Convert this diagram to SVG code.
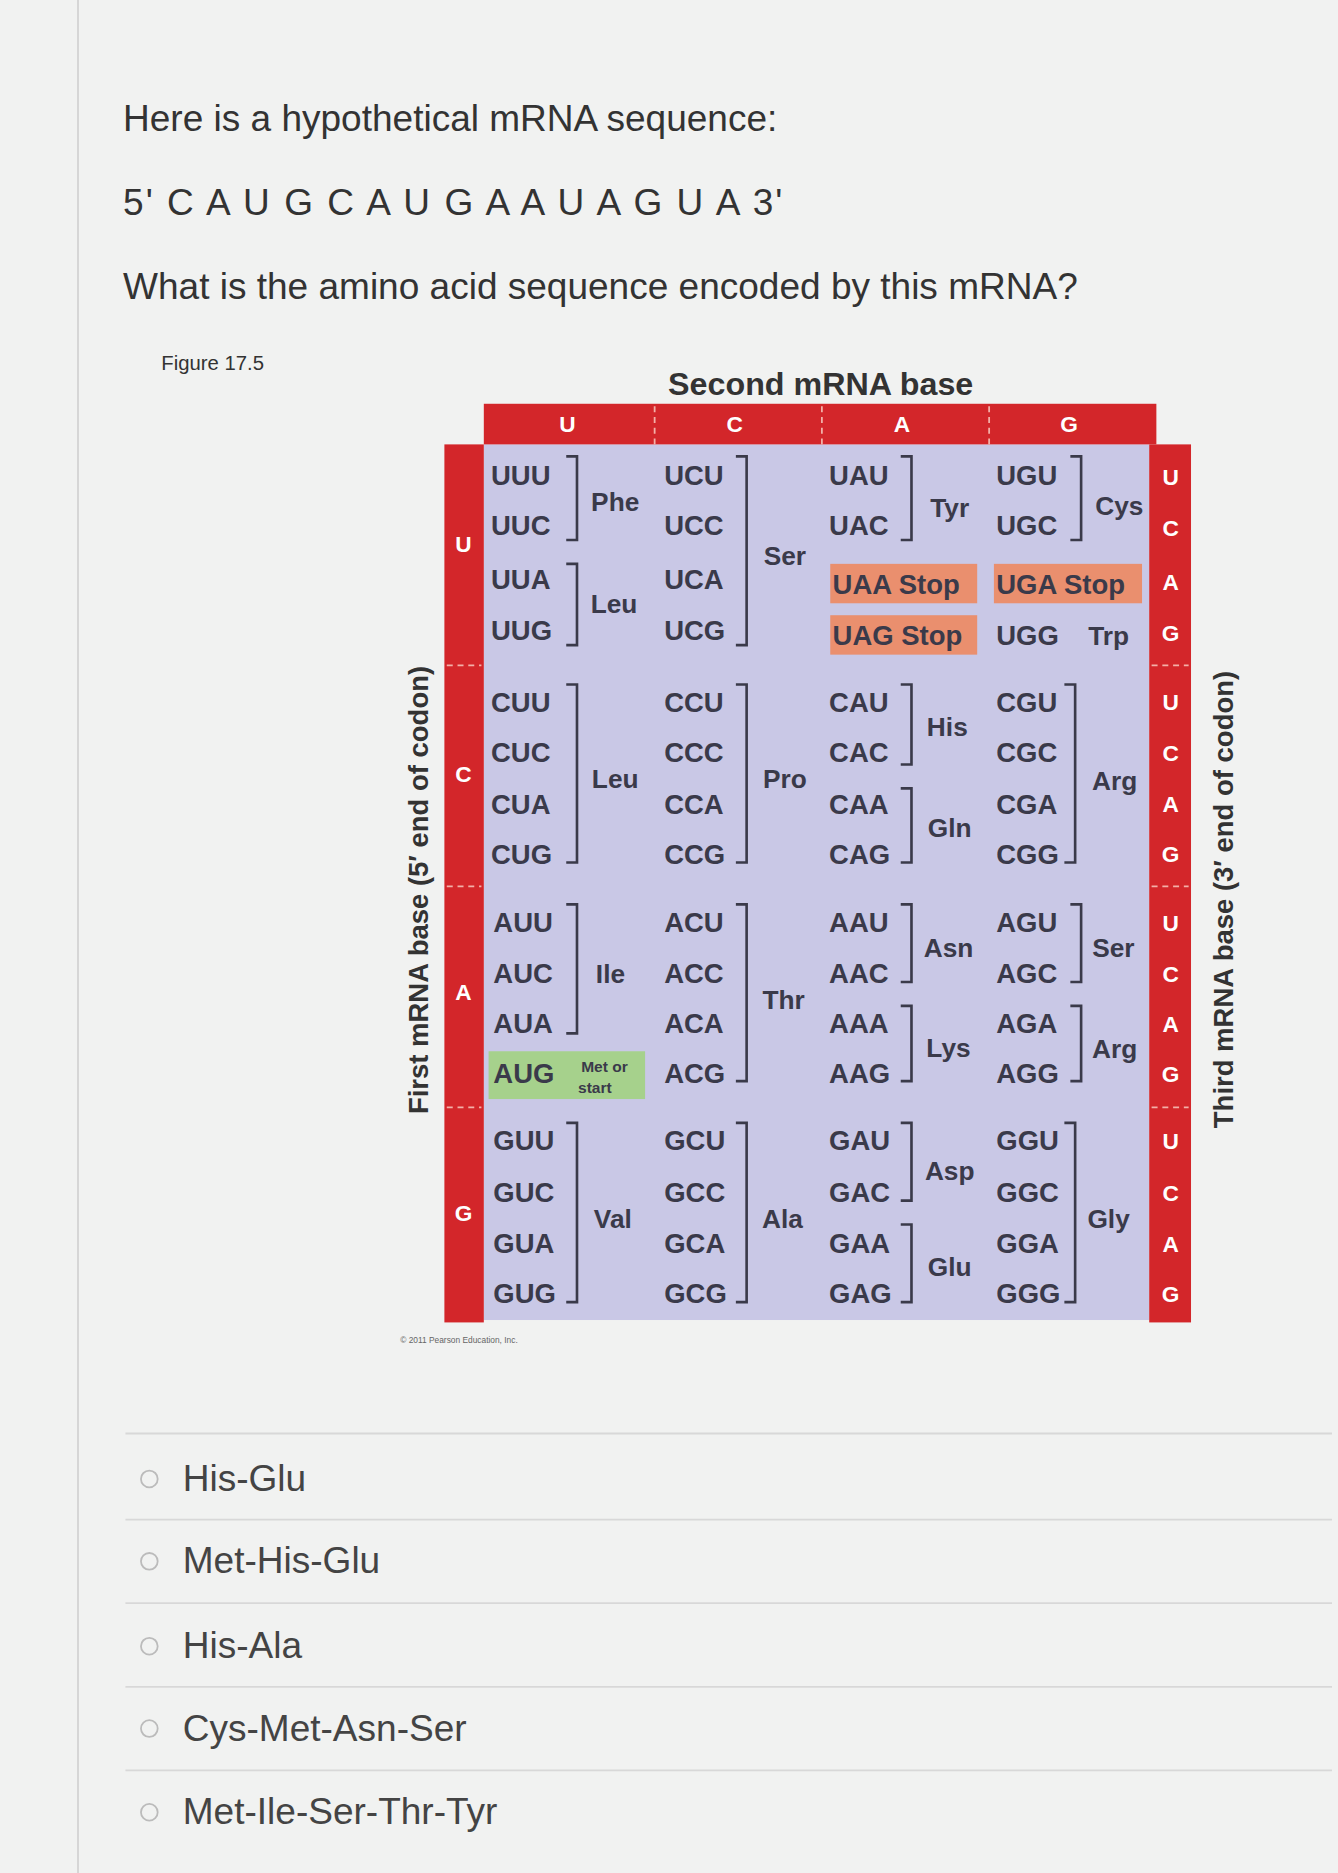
<svg xmlns="http://www.w3.org/2000/svg" width="1338" height="1873" viewBox="0 0 1338 1873">
<style>
.q{font-family:"Liberation Sans",Arial,sans-serif;fill:#333}
.cd{font-family:"Liberation Sans",Arial,sans-serif;font-size:23px;font-weight:bold;fill:#3a3a4a}
.aa{font-family:"Liberation Sans",Arial,sans-serif;font-size:22px;font-weight:bold;fill:#3a3a4a;text-anchor:middle}
.sm{font-family:"Liberation Sans",Arial,sans-serif;font-size:13px;font-weight:bold;fill:#3a3a4a;text-anchor:middle}
.bl{font-family:"Liberation Sans",Arial,sans-serif;font-size:19px;font-weight:bold;fill:#fff;text-anchor:middle}
.br{fill:none;stroke:#3a3a4a;stroke-width:2.2}
.opt{font-family:"Liberation Sans",Arial,sans-serif;font-size:31px;fill:#444}
.sep{stroke:#d8d8d8;stroke-width:1.5}
.dash{stroke:#f3b0a8;stroke-width:1.5;stroke-dasharray:5 4}
</style>
<rect width="1338" height="1873" fill="#f1f2f1"/>
<line x1="78" y1="0" x2="78" y2="1873" stroke="#d6d6d6" stroke-width="2"/>
<g transform="scale(1.1946)">
<g id="question">
<text class="q" x="103" y="110" font-size="31">Here is a hypothetical mRNA sequence:</text>
<text class="q" x="103" y="180" font-size="31" letter-spacing="1.7">5' C A U G C A U G A A U A G U A 3'</text>
<text class="q" x="103" y="250" font-size="31">What is the amino acid sequence encoded by this mRNA?</text>
<text class="q" x="135" y="310" font-size="17">Figure 17.5</text>
</g>
<g id="table">
<text x="687" y="331" font-family="Liberation Sans,Arial,sans-serif" font-size="27" font-weight="bold" fill="#333" text-anchor="middle">Second mRNA base</text>
<rect x="405" y="372" width="557" height="733" fill="#c9c8e6"/>
<rect x="405" y="338" width="563" height="34" fill="#d3262a"/>
<rect x="372" y="372" width="33" height="735" fill="#d3262a"/>
<rect x="962" y="372" width="35" height="735" fill="#d3262a"/>
<line class="dash" x1="548" y1="340" x2="548" y2="372"/>
<line class="dash" x1="688" y1="340" x2="688" y2="372"/>
<line class="dash" x1="828" y1="340" x2="828" y2="372"/>
<line class="dash" x1="374" y1="557" x2="403" y2="557"/>
<line class="dash" x1="374" y1="742" x2="403" y2="742"/>
<line class="dash" x1="374" y1="927" x2="403" y2="927"/>
<line class="dash" x1="964" y1="557" x2="995" y2="557"/>
<line class="dash" x1="964" y1="742" x2="995" y2="742"/>
<line class="dash" x1="964" y1="927" x2="995" y2="927"/>
<text class="bl" x="475" y="362">U</text><text class="bl" x="615" y="362">C</text><text class="bl" x="755" y="362">A</text><text class="bl" x="895" y="362">G</text>
<text class="bl" x="388" y="462">U</text><text class="bl" x="388" y="655">C</text><text class="bl" x="388" y="837">A</text><text class="bl" x="388" y="1022">G</text>
<g>
<text class="bl" x="980" y="406">U</text><text class="bl" x="980" y="449">C</text><text class="bl" x="980" y="494">A</text><text class="bl" x="980" y="537">G</text>
<text class="bl" x="980" y="594">U</text><text class="bl" x="980" y="637">C</text><text class="bl" x="980" y="680">A</text><text class="bl" x="980" y="722">G</text>
<text class="bl" x="980" y="779">U</text><text class="bl" x="980" y="822">C</text><text class="bl" x="980" y="864">A</text><text class="bl" x="980" y="906">G</text>
<text class="bl" x="980" y="962">U</text><text class="bl" x="980" y="1005">C</text><text class="bl" x="980" y="1048">A</text><text class="bl" x="980" y="1090">G</text>
</g>
<text transform="translate(358,745) rotate(-90)" font-family="Liberation Sans,Arial,sans-serif" font-size="23" font-weight="bold" fill="#333" text-anchor="middle">First mRNA base (5′ end of codon)</text>
<text transform="translate(1032,753) rotate(-90)" font-family="Liberation Sans,Arial,sans-serif" font-size="23" font-weight="bold" fill="#333" text-anchor="middle">Third mRNA base (3′ end of codon)</text>
<rect x="695" y="472" width="123" height="33" fill="#ea8f6e"/>
<rect x="832" y="472" width="124" height="33" fill="#ea8f6e"/>
<rect x="695" y="515" width="123" height="33" fill="#ea8f6e"/>
<rect x="409" y="880" width="131" height="40" fill="#a6d18c"/>
<g id="codons">
<text class="cd" x="411" y="406">UUU</text><text class="cd" x="411" y="448">UUC</text><text class="cd" x="411" y="493">UUA</text><text class="cd" x="411" y="536">UUG</text>
<text class="cd" x="556" y="406">UCU</text><text class="cd" x="556" y="448">UCC</text><text class="cd" x="556" y="493">UCA</text><text class="cd" x="556" y="536">UCG</text>
<text class="cd" x="694" y="406">UAU</text><text class="cd" x="694" y="448">UAC</text><text class="cd" x="697" y="497">UAA Stop</text><text class="cd" x="697" y="540">UAG Stop</text>
<text class="cd" x="834" y="406">UGU</text><text class="cd" x="834" y="448">UGC</text><text class="cd" x="834" y="497">UGA Stop</text><text class="cd" x="834" y="540">UGG</text><text class="aa" x="928" y="540">Trp</text>
<text class="cd" x="411" y="596">CUU</text><text class="cd" x="411" y="638">CUC</text><text class="cd" x="411" y="681">CUA</text><text class="cd" x="411" y="723">CUG</text>
<text class="cd" x="556" y="596">CCU</text><text class="cd" x="556" y="638">CCC</text><text class="cd" x="556" y="681">CCA</text><text class="cd" x="556" y="723">CCG</text>
<text class="cd" x="694" y="596">CAU</text><text class="cd" x="694" y="638">CAC</text><text class="cd" x="694" y="681">CAA</text><text class="cd" x="694" y="723">CAG</text>
<text class="cd" x="834" y="596">CGU</text><text class="cd" x="834" y="638">CGC</text><text class="cd" x="834" y="681">CGA</text><text class="cd" x="834" y="723">CGG</text>
<text class="cd" x="413" y="780">AUU</text><text class="cd" x="413" y="823">AUC</text><text class="cd" x="413" y="865">AUA</text><text class="cd" x="413" y="907">AUG</text>
<text class="cd" x="556" y="780">ACU</text><text class="cd" x="556" y="823">ACC</text><text class="cd" x="556" y="865">ACA</text><text class="cd" x="556" y="907">ACG</text>
<text class="cd" x="694" y="780">AAU</text><text class="cd" x="694" y="823">AAC</text><text class="cd" x="694" y="865">AAA</text><text class="cd" x="694" y="907">AAG</text>
<text class="cd" x="834" y="780">AGU</text><text class="cd" x="834" y="823">AGC</text><text class="cd" x="834" y="865">AGA</text><text class="cd" x="834" y="907">AGG</text>
<text class="cd" x="413" y="963">GUU</text><text class="cd" x="413" y="1006">GUC</text><text class="cd" x="413" y="1049">GUA</text><text class="cd" x="413" y="1091">GUG</text>
<text class="cd" x="556" y="963">GCU</text><text class="cd" x="556" y="1006">GCC</text><text class="cd" x="556" y="1049">GCA</text><text class="cd" x="556" y="1091">GCG</text>
<text class="cd" x="694" y="963">GAU</text><text class="cd" x="694" y="1006">GAC</text><text class="cd" x="694" y="1049">GAA</text><text class="cd" x="694" y="1091">GAG</text>
<text class="cd" x="834" y="963">GGU</text><text class="cd" x="834" y="1006">GGC</text><text class="cd" x="834" y="1049">GGA</text><text class="cd" x="834" y="1091">GGG</text>
</g>
<g id="brackets">
<path class="br" d="M474 382H483V452H474M474 472H483V540H474M616 382H625V540H616M754 382H763V452H754M896 382H905V452H896"/>
<path class="br" d="M474 573H483V722H474M616 573H625V722H616M754 573H763V640H754M754 660H763V722H754M891 573H900V722H891"/>
<path class="br" d="M474 757H483V865H474M616 757H625V905H616M754 757H763V822H754M754 842H763V905H754M896 757H905V822H896M896 842H905V905H896"/>
<path class="br" d="M474 940H483V1090H474M616 940H625V1090H616M754 940H763V1005H754M754 1025H763V1090H754M891 940H900V1090H891"/>
</g>
<g id="aminoacids">
<text class="aa" x="515" y="428">Phe</text><text class="aa" x="514" y="513">Leu</text><text class="aa" x="657" y="473">Ser</text><text class="aa" x="795" y="433">Tyr</text><text class="aa" x="937" y="431">Cys</text>
<text class="aa" x="515" y="660">Leu</text><text class="aa" x="657" y="660">Pro</text><text class="aa" x="793" y="616">His</text><text class="aa" x="795" y="701">Gln</text><text class="aa" x="933" y="661">Arg</text>
<text class="aa" x="511" y="823">Ile</text><text class="aa" x="656" y="845">Thr</text><text class="aa" x="794" y="801">Asn</text><text class="aa" x="794" y="885">Lys</text><text class="aa" x="932" y="801">Ser</text><text class="aa" x="933" y="886">Arg</text>
<text class="sm" x="506" y="897">Met or</text><text class="sm" x="498" y="915">start</text>
<text class="aa" x="513" y="1028">Val</text><text class="aa" x="655" y="1028">Ala</text><text class="aa" x="795" y="988">Asp</text><text class="aa" x="795" y="1068">Glu</text><text class="aa" x="928" y="1028">Gly</text>
</g>
<text x="335" y="1124" font-family="Liberation Sans,Arial,sans-serif" font-size="7" fill="#666">© 2011 Pearson Education, Inc.</text>
</g>
<g id="options">
<line class="sep" x1="105" y1="1200" x2="1115" y2="1200"/>
<line class="sep" x1="105" y1="1272" x2="1115" y2="1272"/>
<line class="sep" x1="105" y1="1342" x2="1115" y2="1342"/>
<line class="sep" x1="105" y1="1412" x2="1115" y2="1412"/>
<line class="sep" x1="105" y1="1482" x2="1115" y2="1482"/>
<g fill="none" stroke="#bbb" stroke-width="1.5">
<circle cx="125" cy="1238" r="7"/><circle cx="125" cy="1307" r="7"/><circle cx="125" cy="1378" r="7"/><circle cx="125" cy="1447" r="7"/><circle cx="125" cy="1517" r="7"/>
</g>
<text class="opt" x="153" y="1248">His-Glu</text>
<text class="opt" x="153" y="1317">Met-His-Glu</text>
<text class="opt" x="153" y="1388">His-Ala</text>
<text class="opt" x="153" y="1457">Cys-Met-Asn-Ser</text>
<text class="opt" x="153" y="1527">Met-Ile-Ser-Thr-Tyr</text>
</g>
</g>
</svg>
